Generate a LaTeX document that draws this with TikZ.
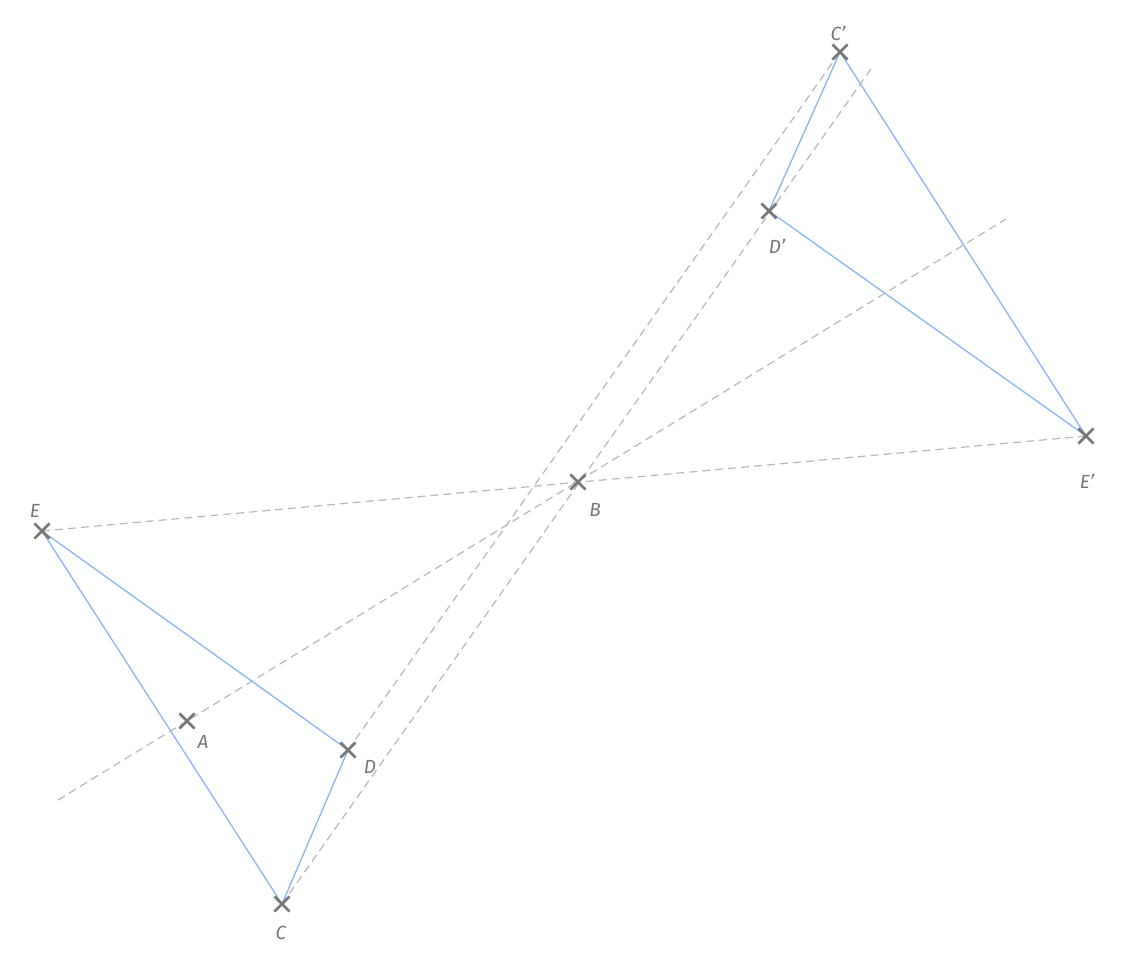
\documentclass[tikz,border=0pt]{standalone}
\usepackage{fontspec}
\setmainfont{Fira Sans}
\usetikzlibrary{shapes.misc}
\definecolor{ptgray}{HTML}{777777}
\definecolor{lngray}{HTML}{B8B8B8}
\definecolor{triblue}{HTML}{8AB6F6}
\tikzset{
  pt/.style={cross out, draw=ptgray, line width=2.6pt, minimum size=12.5pt, inner sep=0pt},
  lbl/.style={text=ptgray, font=\fontsize{19}{19}\selectfont\itshape},
  aux/.style={draw=lngray, line width=1.2pt, dash pattern=on 8pt off 5pt},
  tri/.style={draw=triblue, line width=1.3pt}
}
\begin{document}
\begin{tikzpicture}[x=1pt,y=-1pt]
      \useasboundingbox (0,0) rectangle (1132,970);
      % points
      \coordinate (E) at (42,531);
      \coordinate (A) at (187,721);
      \coordinate (D) at (348,750);
      \coordinate (C) at (282,904);
      \coordinate (B) at (578,482);
      \coordinate (C') at (840,52);
      \coordinate (D') at (769,211);
      \coordinate (E') at (1086,436);
      % ends of the construction lines
      \coordinate (a1) at (58,800);
      \coordinate (a2) at (1006,219);
      \coordinate (c2) at (873,66);
      % construction lines
      \draw[aux] (E) -- (E');
      \draw[aux] (a1) -- (a2);
      \draw[aux] (C) -- (c2);
      \draw[aux] (D) -- (C');
      % triangles
      \draw[tri] (E) -- (C) -- (D) -- cycle;
      \draw[tri] (C') -- (D') -- (E') -- cycle;
      % marks
      \foreach \p in {E,A,D,C,B,C',D',E'}
      \node[pt] (m\p) at (\p) {};
      % labels
      \node[lbl] (lE) at (35,511) {E};
      \node[lbl] (lA) at (203,742) {A};
      \node[lbl] (lD) at (370,767) {D};
      \node[lbl] (lC) at (281,933) {C};
      \node[lbl] (lB) at (595,510) {B};
      \node[lbl] (lE') at (1087,481) {E'};
      \node[lbl] (lD') at (777,246) {D'};
      \node[lbl] (lC') at (838,33) {C'};
    \end{tikzpicture}
\end{document}
